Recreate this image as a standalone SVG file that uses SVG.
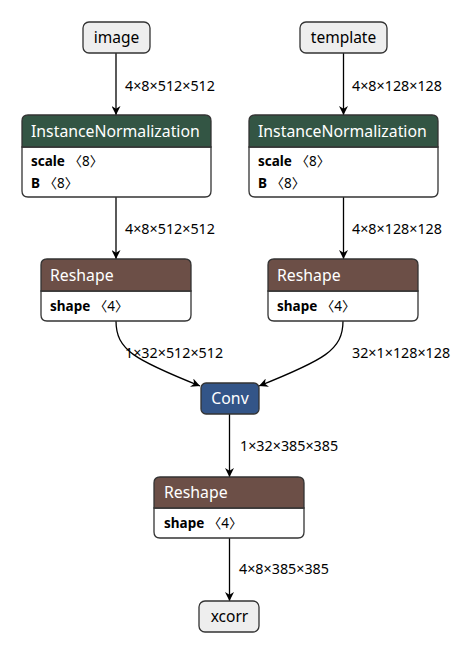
<svg xmlns="http://www.w3.org/2000/svg" width="474" height="654" viewBox="0 0 474 654">
<defs>
<marker id="arrow" viewBox="0 0 10 10" refX="10" refY="5" markerWidth="9" markerHeight="9" markerUnits="userSpaceOnUse" orient="auto">
<path d="M0,0 L10,5 L0,10 L3,5 z" fill="#000"/>
</marker>
<style>
text{font-family:"Noto Sans","Open Sans","Noto Sans CJK SC",sans-serif;}
.io rect{fill:#eeeeee;stroke:#333;stroke-width:1.3;}
.io text{font-size:15.5px;fill:#000;text-anchor:middle;}
.hdr{stroke:#333;stroke-width:1.3;}
.norm{fill:#335544;}
.shape{fill:#6c4f47;}
.layer{fill:#335588;}
.body{fill:#fff;stroke:#333;stroke-width:1.3;}
.title{font-size:15.8px;fill:#fff;}
.attr{font-size:13.5px;fill:#000;}
.attr tspan.b{font-weight:bold;}
.edge path{fill:none;stroke:#000;stroke-width:1.3;marker-end:url(#arrow);}
.edge text{font-size:14.3px;fill:#000;}
</style>
</defs>
<rect width="474" height="654" fill="#fff"/>
<g id="connectors" class="edge">
<path d="M116,53 L116,115"/>
<text x="125" y="91">4×8×512×512</text>
<path d="M343.5,53 L343.5,115"/>
<text x="352" y="91">4×8×128×128</text>
<path d="M116,197 L116,259"/>
<text x="125" y="234">4×8×512×512</text>
<path d="M343.5,197 L343.5,259"/>
<text x="352" y="234">4×8×128×128</text>
<path d="M116,321 C116,350 135,360 200,386"/>
<text x="125" y="358">1×32×512×512</text>
<path d="M343,321 C343,350 324,360 259,386"/>
<text x="352" y="358">32×1×128×128</text>
<path d="M229.5,414 L229.5,477"/>
<text x="240" y="451">1×32×385×385</text>
<path d="M229.5,538 L229.5,601"/>
<text x="239" y="574">4×8×385×385</text>
</g>
<g id="node-image" class="io">
<rect x="83" y="22" width="67" height="31" rx="6"/>
<text x="116.5" y="43">image</text>
</g>
<g id="node-template" class="io">
<rect x="300" y="22" width="87" height="31" rx="6"/>
<text x="343.5" y="43">template</text>
</g>
<g id="node-instnorm-1">
<path class="body" d="M22,147 L211,147 L211,191 Q211,197 205,197 L28,197 Q22,197 22,191 Z"/>
<path class="hdr norm" d="M22,147 L22,121 Q22,115 28,115 L205,115 Q211,115 211,121 L211,147 Z"/>
<text class="title" x="31" y="137">InstanceNormalization</text>
<text class="attr" x="31" y="166"><tspan class="b">scale</tspan> 〈8〉</text>
<text class="attr" x="31" y="188"><tspan class="b">B</tspan> 〈8〉</text>
</g>
<g id="node-instnorm-2">
<path class="body" d="M249,147 L438,147 L438,191 Q438,197 432,197 L255,197 Q249,197 249,191 Z"/>
<path class="hdr norm" d="M249,147 L249,121 Q249,115 255,115 L432,115 Q438,115 438,121 L438,147 Z"/>
<text class="title" x="258" y="137">InstanceNormalization</text>
<text class="attr" x="258" y="166"><tspan class="b">scale</tspan> 〈8〉</text>
<text class="attr" x="258" y="188"><tspan class="b">B</tspan> 〈8〉</text>
</g>
<g id="node-reshape-1">
<path class="body" d="M41,291 L191,291 L191,315 Q191,321 185,321 L47,321 Q41,321 41,315 Z"/>
<path class="hdr shape" d="M41,291 L41,265 Q41,259 47,259 L185,259 Q191,259 191,265 L191,291 Z"/>
<text class="title" x="50" y="281">Reshape</text>
<text class="attr" x="50" y="311"><tspan class="b">shape</tspan> 〈4〉</text>
</g>
<g id="node-reshape-2">
<path class="body" d="M268,291 L418,291 L418,315 Q418,321 412,321 L274,321 Q268,321 268,315 Z"/>
<path class="hdr shape" d="M268,291 L268,265 Q268,259 274,259 L412,259 Q418,259 418,265 L418,291 Z"/>
<text class="title" x="277" y="281">Reshape</text>
<text class="attr" x="277" y="311"><tspan class="b">shape</tspan> 〈4〉</text>
</g>
<g id="node-conv">
<rect class="hdr layer" x="201" y="383" width="58" height="31" rx="5"/>
<text class="title" x="230" y="404" text-anchor="middle">Conv</text>
</g>
<g id="node-reshape-3">
<path class="body" d="M154,508 L304,508 L304,532 Q304,538 298,538 L160,538 Q154,538 154,532 Z"/>
<path class="hdr shape" d="M154,508 L154,483 Q154,477 160,477 L298,477 Q304,477 304,483 L304,508 Z"/>
<text class="title" x="164" y="498">Reshape</text>
<text class="attr" x="164" y="528"><tspan class="b">shape</tspan> 〈4〉</text>
</g>
<g id="node-xcorr" class="io">
<rect x="199" y="601" width="60" height="31" rx="6"/>
<text x="229.5" y="622">xcorr</text>
</g>
</svg>
